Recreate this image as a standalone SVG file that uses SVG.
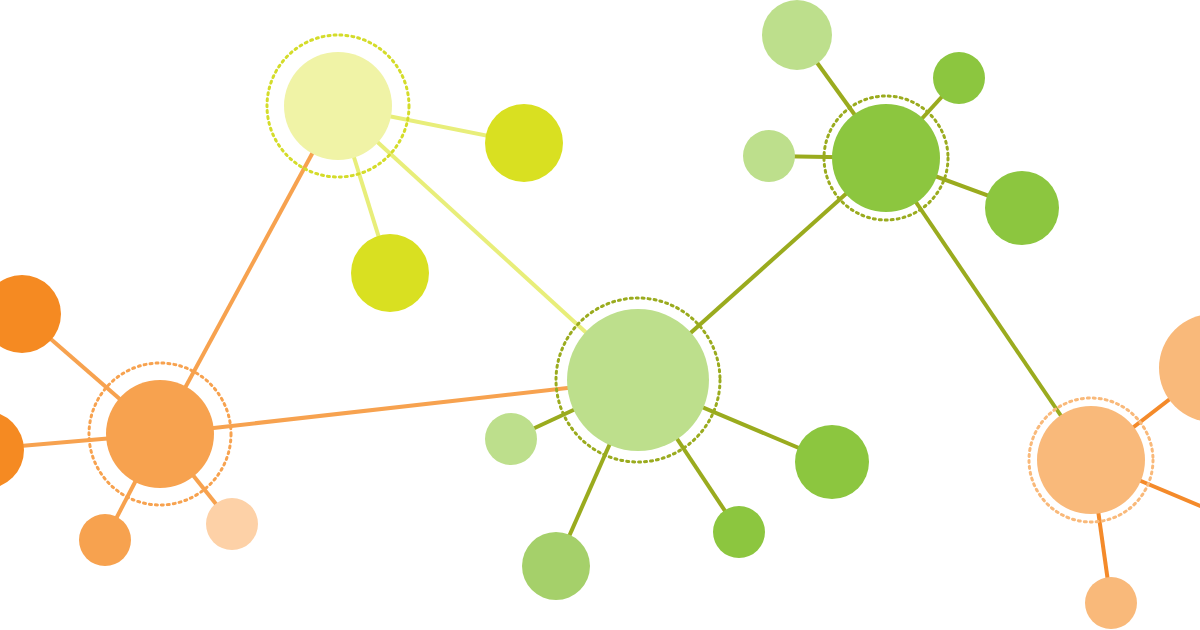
<svg xmlns="http://www.w3.org/2000/svg" width="1200" height="630" viewBox="0 0 1200 630">
<style>
.ring{fill:none;stroke-width:3;stroke-dasharray:2 4;stroke-linecap:round}
line{stroke-width:4}
</style>
<rect width="1200" height="630" fill="#fff"/>
<g id="connectors">
<g stroke="#e8ee7a">
<line x1="338" y1="106" x2="524" y2="143"/>
<line x1="338" y1="106" x2="390" y2="273"/>
<line x1="338" y1="106" x2="638" y2="380"/>
</g>
<g stroke="#f7a24f">
<line x1="160" y1="434" x2="338" y2="106"/>
<line x1="160" y1="434" x2="638" y2="380"/>
<line x1="160" y1="434" x2="22" y2="314"/>
<line x1="160" y1="434" x2="-2" y2="448"/>
<line x1="160" y1="434" x2="105" y2="540"/>
<line x1="160" y1="434" x2="232" y2="524"/>
</g>
<g stroke="#9aab1e">
<line x1="638" y1="380" x2="511" y2="439"/>
<line x1="638" y1="380" x2="556" y2="566"/>
<line x1="638" y1="380" x2="739" y2="532"/>
<line x1="638" y1="380" x2="832" y2="462"/>
<line x1="638" y1="380" x2="886" y2="158"/>
<line x1="886" y1="158" x2="797" y2="35"/>
<line x1="886" y1="158" x2="959" y2="78"/>
<line x1="886" y1="158" x2="769" y2="156"/>
<line x1="886" y1="158" x2="1022" y2="208"/>
<line x1="886" y1="158" x2="1091" y2="460"/>
</g>
<g stroke="#f48a2a">
<line x1="1091" y1="460" x2="1210" y2="368"/>
<line x1="1091" y1="460" x2="1111" y2="603"/>
<line x1="1091" y1="460" x2="1210" y2="510"/>
</g>
</g>
<g id="hubA"><circle cx="338" cy="106" r="54" fill="#f0f3a6"/><circle class="ring" cx="338" cy="106" r="71" stroke="#d4dc2a"/></g>
<g id="a1"><circle cx="524" cy="143" r="39" fill="#d9e021"/></g>
<g id="a2"><circle cx="390" cy="273" r="39" fill="#d9e021"/></g>
<g id="hubB"><circle cx="638" cy="380" r="71" fill="#bddf8c"/><circle class="ring" cx="638" cy="380" r="82" stroke="#9aab1e"/></g>
<g id="b1"><circle cx="511" cy="439" r="26" fill="#bddf8c"/></g>
<g id="b2"><circle cx="556" cy="566" r="34" fill="#a5d06a"/></g>
<g id="b3"><circle cx="739" cy="532" r="26" fill="#8cc63f"/></g>
<g id="b4"><circle cx="832" cy="462" r="37" fill="#8cc63f"/></g>
<g id="hubC"><circle cx="886" cy="158" r="54" fill="#8cc63f"/><circle class="ring" cx="886" cy="158" r="62" stroke="#9aab1e"/></g>
<g id="c1"><circle cx="797" cy="35" r="35" fill="#bddf8c"/></g>
<g id="c2"><circle cx="959" cy="78" r="26" fill="#8cc63f"/></g>
<g id="c3"><circle cx="769" cy="156" r="26" fill="#bddf8c"/></g>
<g id="c4"><circle cx="1022" cy="208" r="37" fill="#8cc63f"/></g>
<g id="hubD"><circle cx="1091" cy="460" r="54" fill="#f9b97a"/><circle class="ring" cx="1091" cy="460" r="62" stroke="#f9b97a"/></g>
<g id="d1"><circle cx="1213" cy="368" r="54" fill="#f9b97a"/></g>
<g id="d2"><circle cx="1111" cy="603" r="26" fill="#f9b97a"/></g>
<g id="hubE"><circle cx="160" cy="434" r="54" fill="#f7a24f"/><circle class="ring" cx="160" cy="434" r="71" stroke="#f7a24f"/></g>
<g id="e1"><circle cx="22" cy="314" r="39" fill="#f58a22"/></g>
<g id="e2"><circle cx="-15" cy="450" r="39" fill="#f58a22"/></g>
<g id="e3"><circle cx="105" cy="540" r="26" fill="#f7a24f"/></g>
<g id="e4"><circle cx="232" cy="524" r="26" fill="#fdd1a7"/></g>
</svg>
